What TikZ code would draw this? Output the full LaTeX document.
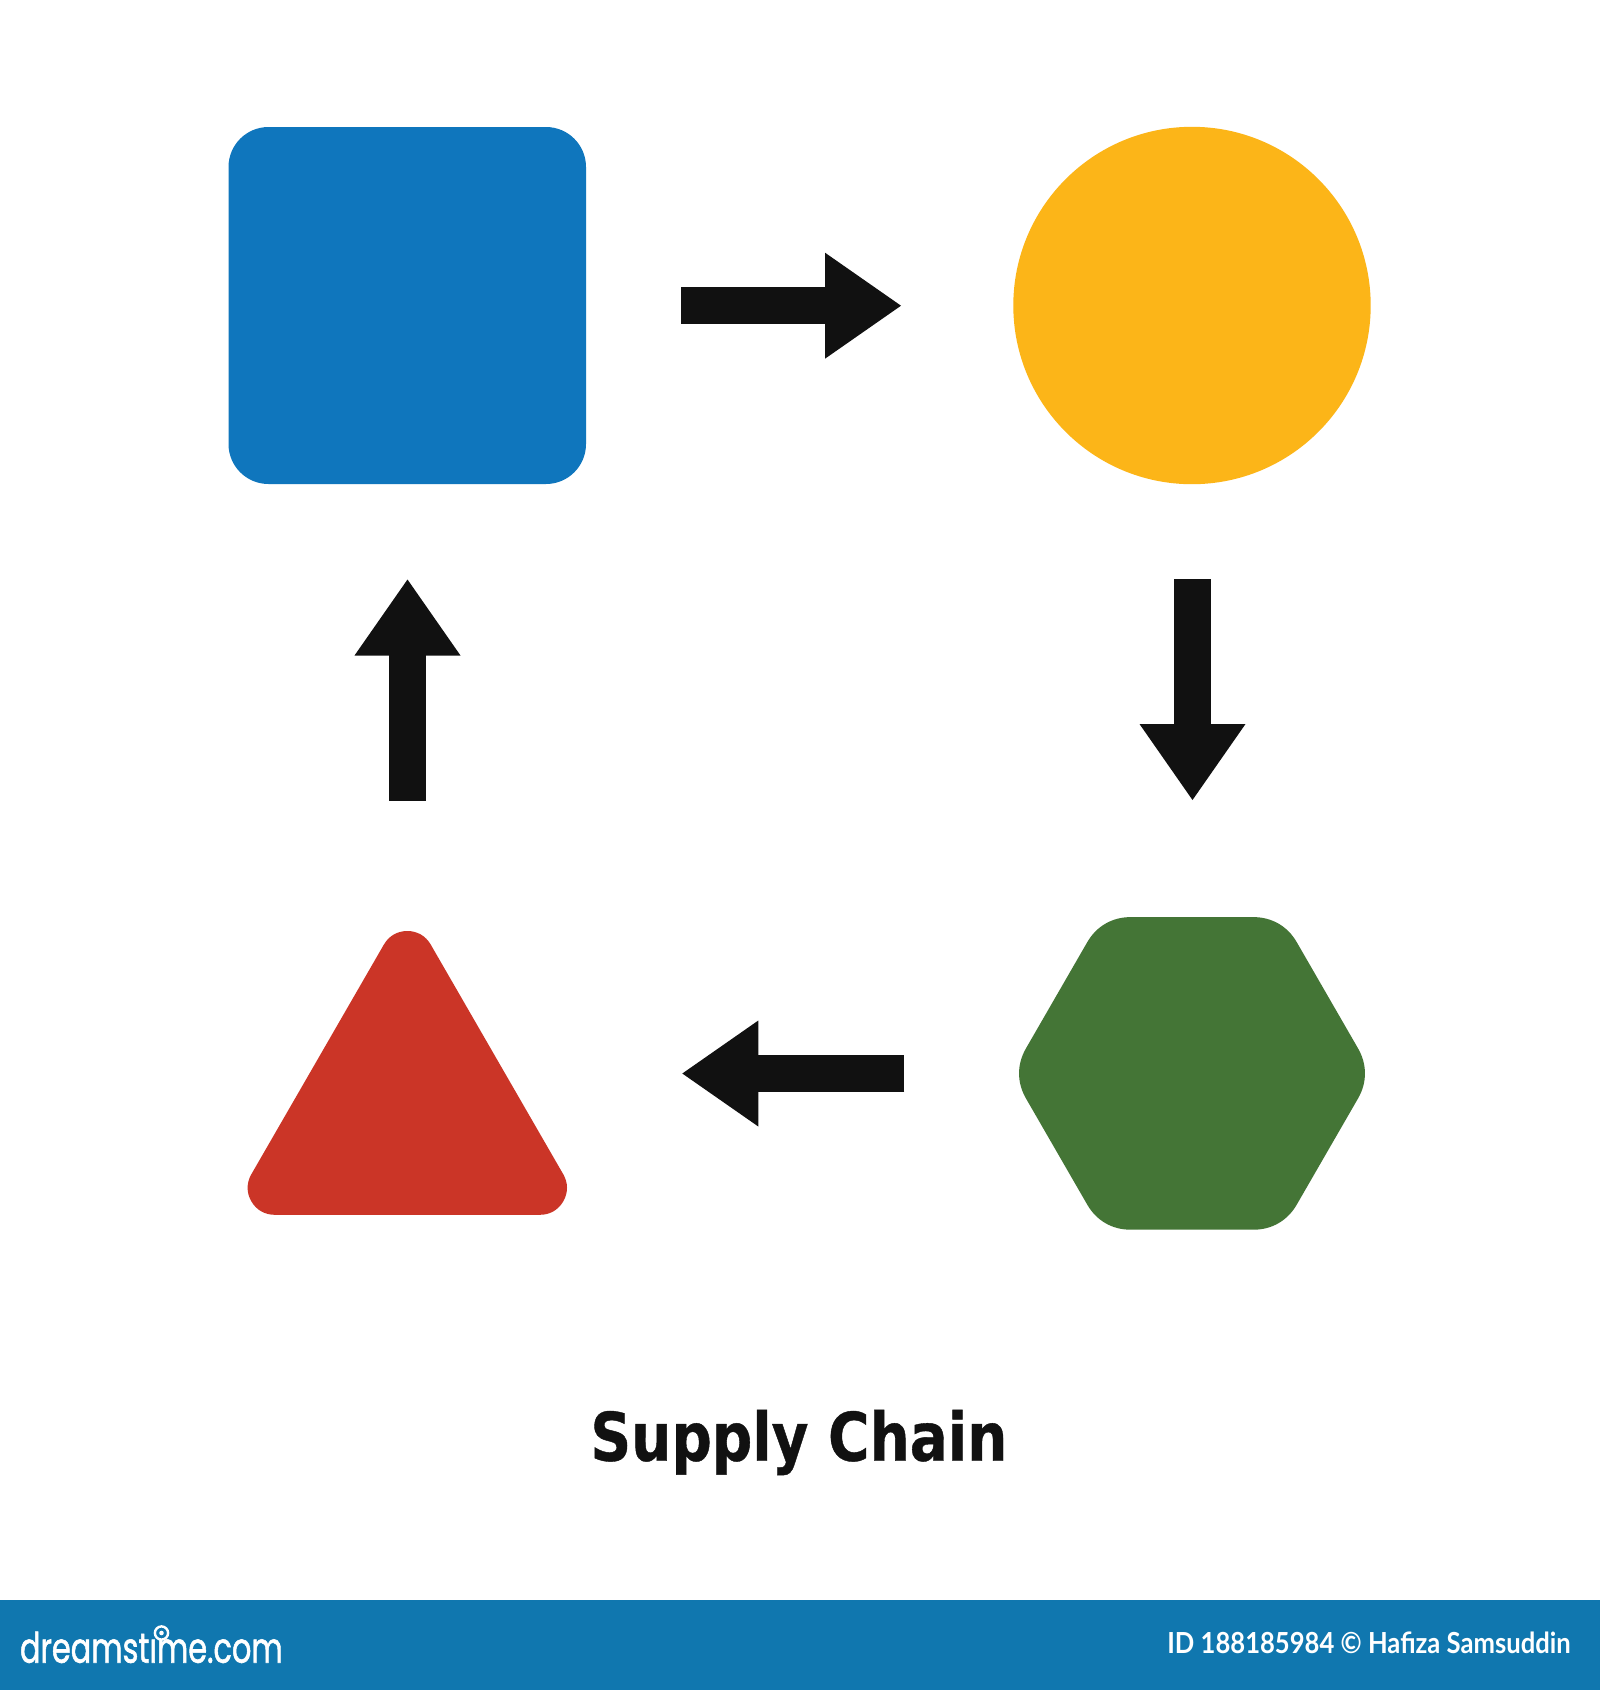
\documentclass[tikz,border=0pt]{standalone}
\usepackage{fontspec}
\setmainfont{DejaVu Sans}
\newfontfamily\titlefont[FakeBold=0.6]{DejaVu Sans Condensed Bold}
\newfontfamily\logofont[FakeBold=1.5]{Poppins}
\newfontfamily\creditfont{Lato}
\usetikzlibrary{arrows.meta,calc}
\definecolor{sqblue}{HTML}{0F76BD}
\definecolor{sunyellow}{HTML}{FCB518}
\definecolor{leafgreen}{HTML}{447536}
\definecolor{brickred}{HTML}{CB3527}
\definecolor{arrowblack}{HTML}{111111}
\definecolor{bannerblue}{HTML}{1077AF}
\begin{document}
\begin{tikzpicture}[x=1pt,y=-1pt,
  flow/.style={draw=arrowblack, line width=37pt, line cap=butt,
    -{Triangle[width=106pt,length=76pt,line width=0pt,fill=arrowblack]}},
  shaft/.style={draw=arrowblack, line width=37pt, line cap=butt},
  shapebox/.style={inner sep=0pt, outer sep=0pt, draw=none},
  credit/.style={inner sep=0pt, outer sep=0pt, text=white}]
\useasboundingbox (0,0) rectangle (1600,1690);
\fill[white] (0,0) rectangle (1600,1690);
% shapes
\node[shapebox, rectangle, fill=sqblue, rounded corners=40pt,
      minimum width=357.5pt, minimum height=357pt] (supplier) at (407.25,305.5) {};
\node[shapebox, circle, fill=sunyellow, minimum size=357.4pt] (maker) at (1192,305.5) {};
\coordinate (retail) at (1192,1073.4);
\filldraw[leafgreen, line width=100pt, line join=round]
  (1314.75,1073.4) -- (1253.4,967.1) -- (1130.6,967.1) -- (1069.25,1073.4)
  -- (1130.6,1179.7) -- (1253.4,1179.7) -- cycle;
\coordinate (buyer) at (407.3,1111.2);
\filldraw[brickred, line width=54pt, line join=round]
  (407.3,958.0) -- (539.9,1187.8) -- (274.7,1187.8) -- cycle;
% arrows
\coordinate (a1s) at (681,305.7);   \coordinate (a1e) at (901,305.7);
\coordinate (a2s) at (1192.5,579);  \coordinate (a2e) at (1192.5,800);
\coordinate (a3s) at (904,1073.5);  \coordinate (a3e) at (682.3,1073.5);
\coordinate (a4s) at (407.5,800.7); \coordinate (a4e) at (407.5,579.5);
\foreach \s/\e in {a1s/a1e,a2s/a2e,a3s/a3e,a4s/a4e}{
  \draw[shaft] (\s) -- ($(\e)!68pt!(\s)$);
  \draw[flow] (\s) -- (\e);
}
% title
\node[anchor=base, inner sep=0pt, text=arrowblack,
      font={\titlefont\fontsize{67pt}{67pt}\selectfont}] (title)
      at (799,1460.7) {\resizebox{417pt}{\height}{Supply Chain}};
% banner
\fill[bannerblue] (0,1600) rectangle (1600,1690);
\node[credit, anchor=base west, font={\logofont\fontsize{42pt}{42pt}\selectfont}] (logo)
      at (20,1662.7) {\resizebox{262.7pt}{\height}{dreamst\i me.com}};
\draw[white, line width=2.4pt] (161.5,1633) circle (6.6pt);
\fill[white] (161.5,1633) circle (2.3pt);
\node[credit, anchor=base west, font={\creditfont\bfseries\fontsize{29pt}{29pt}\selectfont}] (idtext)
      at (1167.3,1653.3) {\resizebox{403.4pt}{\height}{ID 188185984 © Hafiza Samsuddin}};
\end{tikzpicture}
\end{document}
